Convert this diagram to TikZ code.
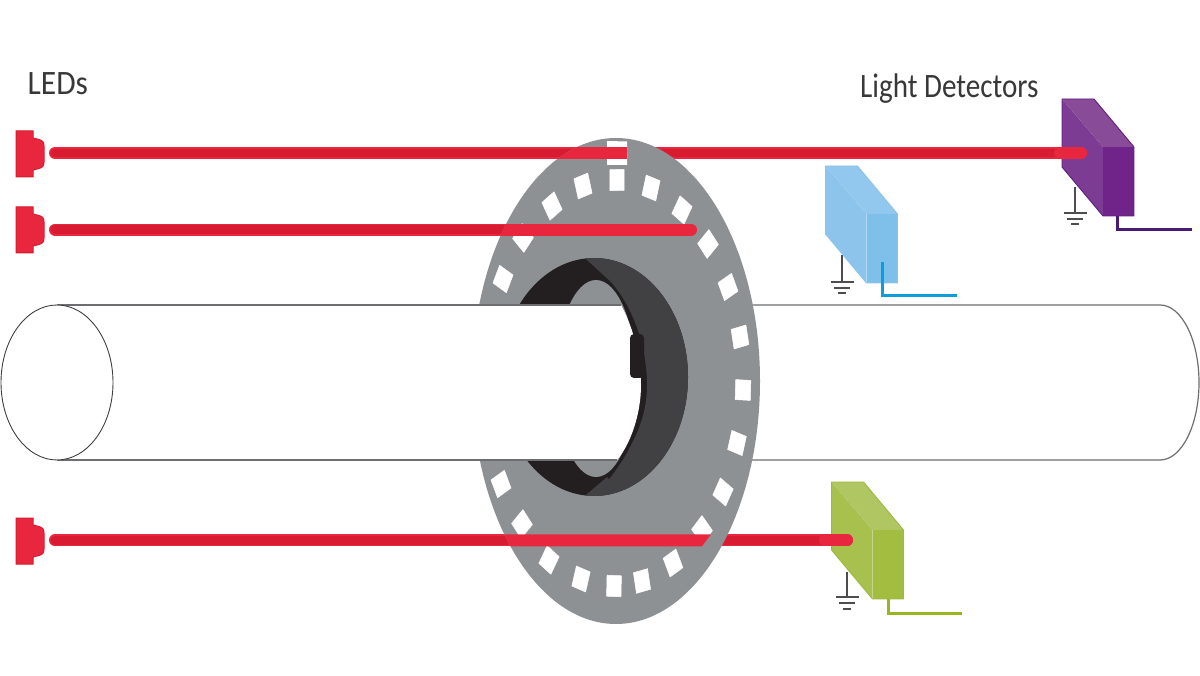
\documentclass[tikz,border=0pt]{standalone}
\usepackage{fontspec}
\setmainfont{Carlito}
\definecolor{redlite}{HTML}{E8273F}
\definecolor{redcore}{HTML}{D81B30}
\definecolor{discgray}{HTML}{8E9194}
\definecolor{pipeline}{HTML}{6D6E71}
\definecolor{ringdark}{HTML}{231F20}
\definecolor{ringlite}{HTML}{414042}
\definecolor{gndgray}{HTML}{4D4D4F}
\definecolor{pfront}{HTML}{7D3C93}\definecolor{ptop}{HTML}{874B98}\definecolor{pright}{HTML}{70248A}\definecolor{pedge}{HTML}{5F1F80}\definecolor{pwire}{HTML}{4A1A72}
\definecolor{bfront}{HTML}{8CC4EC}\definecolor{btop}{HTML}{93C8EE}\definecolor{bright}{HTML}{7FC0EA}\definecolor{bwire}{HTML}{0D9DDB}
\definecolor{gfront}{HTML}{A8C04E}\definecolor{gtop}{HTML}{B0C662}\definecolor{gright}{HTML}{A3BD40}\definecolor{gedge}{HTML}{9FB93C}\definecolor{gwire}{HTML}{9AB522}
\tikzset{
  beamouter/.style={line width=12pt,color=redlite,line cap=round},
  beamcore/.style={line width=8.5pt,color=redcore,line cap=round},
  beamover/.style={line width=12pt,color=redlite},
  ledbody/.style={fill=redlite,draw=redcore,line width=1pt},
  gnd/.style={draw=gndgray,line width=2pt},
  pipeedge/.style={draw=pipeline,line width=1.2pt},
  wire/.style={line width=3pt},
  labeltext/.style={text=black!78,font=\fontsize{30}{32}\selectfont,inner sep=0pt,anchor=base west,transform shape},
  slotwin/.style={fill=white,draw=white,line width=.5pt,line join=round}
}
% \ledshape{y offset}
\newcommand{\ledshape}[1]{%
  \draw[ledbody,shift={(0,#1)}] (16,131) -- (33,131) -- (33,138) -- (39,139.5)
    .. controls (42.5,140.5) and (44,142) .. (44,146) -- (44,162)
    .. controls (44,166) and (42.5,167.5) .. (39,168.5) -- (33,170) -- (33,177) -- (16,177) -- cycle;}
% \detector{x}{y}{front}{top}{right}{edge}: x,y = upper left corner
\newcommand{\detector}[6]{%
  \begin{scope}[shift={(#1,#2)},line join=round]
    \fill[#3] (0,0) -- (0,68) -- (41,117) -- (41,48) -- cycle;
    \fill[#4] (0,0) -- (32,0) -- (72,48) -- (41,48) -- cycle;
    \fill[#5] (41,48) -- (72,48) -- (72,117) -- (41,117) -- cycle;
    \draw[#6,line width=.9pt] (0,0) -- (32,0) -- (72,48) -- (72,117) -- (41,117) -- (0,68) -- cycle;
  \end{scope}}
% \groundsym{x}{top y}{bar y}
\newcommand{\groundsym}[3]{%
  \draw[gnd] (#1,#2) -- (#1,#3);
  \draw[gnd] ({#1-11.5},#3) -- ({#1+11.5},#3);
  \draw[gnd] ({#1-8},{#3+6}) -- ({#1+8},{#3+6});
  \draw[gnd] ({#1-4},{#3+11.5}) -- ({#1+4},{#3+11.5});}
\begin{document}
\begin{tikzpicture}[x=1pt,y=-1pt]
\useasboundingbox (0,0) rectangle (1200,676);
\fill[white] (0,0) rectangle (1200,676);

% right pipe
\draw[pipeedge] (700,305) -- (1160,305) arc[start angle=90,end angle=-90,x radius=39pt,y radius=77.5pt] -- (700,460);

% detectors
\groundsym{1075}{187}{213}
\groundsym{842}{255}{282}
\groundsym{847}{572}{597}
\detector{1062}{99}{pfront}{ptop}{pright}{pedge}
\detector{825.5}{166}{bfront}{btop}{bright}{bfront}
\detector{831.5}{482}{gfront}{gtop}{gright}{gedge}
\draw[pwire,wire] (1117,216) -- (1117,229.5) -- (1192,229.5);
\draw[bwire,wire] (882,262) -- (882,295.5) -- (957,295.5);
\draw[gwire,wire] (888,599) -- (888,613) -- (962,613);

% beams behind the disc
\foreach \yy/\xe in {153/1081,229.7/691,540.3/847}{
  \draw[beamouter] (55,\yy) -- (\xe,\yy);
  \draw[beamcore] (55,\yy) -- (\xe,\yy);
}
\draw[beamouter] (1060,153) -- (1081,153);
\draw[beamouter] (825,540.3) -- (847,540.3);

% LEDs
\ledshape{0}
\ledshape{76}
\ledshape{387}

% disc
\fill[discgray] (616,381) ellipse [x radius=144pt,y radius=243pt];

% slots
\foreach \sx/\sy in {617/180,583/186,651/188,552/206,682/210,523/238,708/244,503/279,728/287,740/337,
  743/390,737/443,723/492,702/530,673/563,642/581,614/586,581/579,549/560,522/524,501/484}{
  \pgfmathsetmacro{\ux}{(\sx-617.5)/0.588}
  \pgfmathsetmacro{\uy}{\sy-381}
  \pgfmathsetmacro{\un}{veclen(\ux,\uy)}
  \pgfmathsetmacro{\cs}{\ux/\un}
  \pgfmathsetmacro{\sn}{\uy/\un}
  \pgfmathsetmacro{\rx}{10.5*\cs*0.72}
  \pgfmathsetmacro{\ry}{10.5*\sn}
  \pgfmathsetmacro{\tx}{-10*\sn*0.72}
  \pgfmathsetmacro{\ty}{10*\cs}
  \draw[slotwin] ({\sx+\rx+\tx},{\sy+\ry+\ty}) -- ({\sx+\rx-\tx},{\sy+\ry-\ty})
     -- ({\sx-\rx-\tx},{\sy-\ry-\ty}) -- ({\sx-\rx+\tx},{\sy-\ry+\ty}) -- cycle;
}
\fill[white] (607,141) -- (627,141.5) -- (627,165) -- (607,165) -- cycle;

% beams on the disc
\begin{scope}
  \clip (616,381) ellipse [x radius=144pt,y radius=243pt];
  \draw[beamover] (540,153) -- (626.5,153);
  \draw[beamover,line cap=round] (480,229.7) -- (691,229.7);
  \fill[redlite] (470,534.3) -- (711,534.3) -- (702,546.3) -- (470,546.3) -- cycle;
\end{scope}

% ring
\fill[ringdark] (594,377) ellipse [x radius=94pt,y radius=119pt];
\begin{scope}
  \clip (594,377) ellipse [x radius=94pt,y radius=119pt];
  \fill[ringlite] (576,250) -- (610,281) .. controls (632,305) and (647,345) .. (647,385)
     .. controls (647,420) and (632,450) .. (607,477) -- (580,500) -- (700,500) -- (700,250) -- cycle;
\end{scope}
\fill[ringdark] (609,479) .. controls (632,450) and (645,420) .. (645,385) -- (630,385) -- (600,470) -- cycle;
\fill[discgray] (596,378.5) ellipse [x radius=40pt,y radius=98.5pt];

% left pipe
\fill[white] (57,305) -- (621,305) .. controls (632,325) and (641,355) .. (641,385)
   .. controls (641,415) and (630,445) .. (617,460) -- (57,460) -- cycle;
\fill[ringdark,rounded corners=4pt] (630,334) rectangle (644,378);
\draw[pipeedge] (57,305) -- (621,305);
\draw[pipeedge] (57,460) -- (617,460);
\fill[white] (57,382.5) ellipse [x radius=56pt,y radius=77.5pt];
\draw[black!75,line width=.9pt] (57,382.5) ellipse [x radius=56pt,y radius=77.5pt];

% labels
\node[labeltext,xscale=1.05,yscale=1.14] (ledlabel) at (27.5,95) {LEDs};
\node[labeltext,xscale=.97,yscale=1.14] (detlabel) at (860,97.5) {Light Detectors};
\end{tikzpicture}
\end{document}
